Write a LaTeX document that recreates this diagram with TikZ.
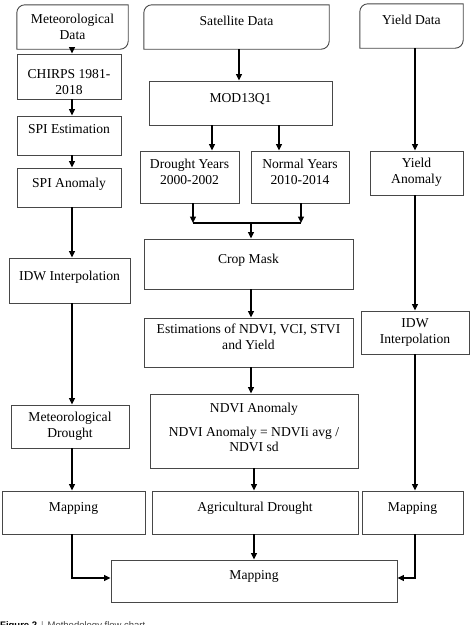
\documentclass[tikz,border=0pt]{standalone}
\usepackage{fontspec}
\setmainfont{Liberation Serif}
\newfontfamily\capfont{Liberation Sans}
\usetikzlibrary{arrows.meta}
\begin{document}
\begin{tikzpicture}[x=1pt,y=1pt,
  bx/.style={draw=black!72, line width=0.9pt, inner sep=0pt},
  rbx/.style={draw=none, inner sep=0pt},
  rline/.style={draw=black!72, line width=0.9pt},
  lbl/.style={anchor=base, inner sep=0pt, align=center, font=\fontsize{13.6}{16.5}\selectfont, text=black},
  arr/.style={draw=black, line width=1.4pt, -{Triangle[length=6.5pt,width=6pt]}},
  ln/.style={draw=black, line width=1.4pt}]
\useasboundingbox (0,0) rectangle (474,-625);
\clip (0,0) rectangle (474,-625);

% ---------- boxes ----------
\node[rbx, minimum width=111pt, minimum height=44pt] (met) at (72.5,-27) {};
\node[bx, minimum width=104pt, minimum height=45pt] (chirps) at (69,-76.5) {};
\node[bx, minimum width=104pt, minimum height=39pt] (spie) at (69,-135.5) {};
\node[bx, minimum width=104pt, minimum height=39pt] (spia) at (69,-187.5) {};
\node[bx, minimum width=121pt, minimum height=45pt] (idwl) at (69.5,-280.5) {};
\node[bx, minimum width=118pt, minimum height=43pt] (metd) at (70,-426.5) {};
\node[bx, minimum width=143pt, minimum height=43pt] (mapl) at (73.5,-512.5) {};
\node[bx, minimum width=286pt, minimum height=42pt] (mapb) at (254,-581) {};

\node[rbx, minimum width=185pt, minimum height=44pt] (sat) at (236.5,-27) {};
\node[bx, minimum width=183pt, minimum height=44pt] (mod) at (240.5,-103) {};
\node[bx, minimum width=99pt, minimum height=52pt] (dry) at (189.5,-177) {};
\node[bx, minimum width=98pt, minimum height=52pt] (nry) at (300,-177) {};
\node[bx, minimum width=209pt, minimum height=50pt] (crop) at (248.5,-264) {};
\node[bx, minimum width=209pt, minimum height=49pt] (est) at (248.5,-342.5) {};
\node[bx, minimum width=208pt, minimum height=74pt] (ndvi) at (254,-431) {};
\node[bx, minimum width=206pt, minimum height=43pt] (agr) at (255,-512.5) {};

\node[rbx, minimum width=103pt, minimum height=44pt] (yld) at (411.5,-26) {};
\node[bx, minimum width=93pt, minimum height=44pt] (yla) at (416.5,-173) {};
\node[bx, minimum width=108pt, minimum height=43pt] (idwr) at (415,-332.5) {};
\node[bx, minimum width=101pt, minimum height=43pt] (mapr) at (412.5,-512.5) {};

% rounded data boxes (top-left and bottom-right corners rounded)
\foreach \b in {met,sat,yld}{
  \draw[rline] (\b.south west) -- ([yshift=-8pt]\b.north west)
    arc[start angle=180,end angle=90,radius=8pt] -- (\b.north east)
    -- ([yshift=8pt]\b.south east)
    arc[start angle=0,end angle=-90,radius=8pt] -- cycle;
}

% ---------- labels (base = baseline of the last line) ----------
\node[lbl] (tmet) at (72.5,-39.5) {Meteorological\\Data};
\node[lbl] (tchirps) at (69,-94.5) {CHIRPS 1981-\\2018};
\node[lbl] (tspie) at (69,-133.5) {SPI Estimation};
\node[lbl] (tspia) at (69,-187.5) {SPI Anomaly};
\node[lbl] (tidwl) at (69.5,-280.5) {IDW Interpolation};
\node[lbl] (tmetd) at (70,-437.5) {Meteorological\\Drought};
\node[lbl] (tmapl) at (73.5,-511.5) {Mapping};
\node[lbl] (tmapb) at (254,-579.5) {Mapping};

\node[lbl] (tsat) at (236.5,-25.5) {Satellite Data};
\node[lbl] (tmod) at (240.5,-102.5) {MOD13Q1};
\node[lbl] (tdry) at (189.5,-184.5) {Drought Years\\2000-2002};
\node[lbl] (tnry) at (300,-184.5) {Normal Years\\2010-2014};
\node[lbl] (tcrop) at (248.5,-263.5) {Crop Mask};
\node[lbl] (test) at (248.5,-349.5) {Estimations of NDVI, VCI, STVI\\and Yield};
\node[lbl, font=\fontsize{13.6}{15}\selectfont] (tndvi) at (254,-451) {NDVI Anomaly\\[9pt]NDVI Anomaly = NDVIi avg /\\NDVI sd};
\node[lbl] (tagr) at (255,-511.5) {Agricultural Drought};

\node[lbl] (tyld) at (411.5,-24.5) {Yield Data};
\node[lbl] (tyla) at (416.5,-183.5) {Yield\\Anomaly};
\node[lbl] (tidwr) at (415,-343.5) {IDW\\Interpolation};
\node[lbl] (tmapr) at (412.5,-511.5) {Mapping};

% ---------- connector x positions ----------
\coordinate (xl) at (72,0);
\coordinate (xs) at (239,0);
\coordinate (xd) at (212,0);
\coordinate (xn) at (279,0);
\coordinate (xa) at (193,0);
\coordinate (xb) at (301,0);
\coordinate (xm) at (251,0);
\coordinate (xq) at (254,0);
\coordinate (xr) at (415,0);
\coordinate (jy) at (0,-223);

% left column
\draw[arr] (met.south -| xl) -- (chirps.north -| xl);
\draw[arr] (chirps.south -| xl) -- (spie.north -| xl);
\draw[arr] (spie.south -| xl) -- (spia.north -| xl);
\draw[arr] (spia.south -| xl) -- (idwl.north -| xl);
\draw[arr] (idwl.south -| xl) -- (metd.north -| xl);
\draw[arr] (metd.south -| xl) -- (mapl.north -| xl);
\draw[arr] (mapl.south -| xl) |- ([yshift=3pt]mapb.west);

% middle column
\draw[arr] (sat.south -| xs) -- (mod.north -| xs);
\draw[arr] (mod.south -| xd) -- (dry.north -| xd);
\draw[arr] (mod.south -| xn) -- (nry.north -| xn);
\draw[arr] (dry.south -| xa) -- (xa |- jy);
\draw[arr] (nry.south -| xb) -- (xb |- jy);
\draw[ln] (xa |- jy) -- (xb |- jy);
\draw[arr] (xm |- jy) -- (crop.north -| xm);
\draw[arr] (crop.south -| xm) -- (est.north -| xm);
\draw[arr] (est.south -| xm) -- (ndvi.north -| xm);
\draw[arr] (ndvi.south -| xq) -- (agr.north -| xq);
\draw[arr] (agr.south -| xq) -- (mapb.north -| xq);

% right column
\draw[arr] (yld.south -| xr) -- (yla.north -| xr);
\draw[arr] (yla.south -| xr) -- (idwr.north -| xr);
\draw[arr] (idwr.south -| xr) -- (mapr.north -| xr);
\draw[arr] (mapr.south -| xr) |- ([yshift=3pt]mapb.east);

% caption (cut by the lower edge)
\node[anchor=base west, inner sep=0pt, font=\capfont\fontsize{9.5}{11}\selectfont] (cap) at (0,-628)
  {\textbf{Figure 2}\hspace{4pt}{\color{black!55}|}\hspace{4pt}{\color{black!75}Methodology flow chart}};
\end{tikzpicture}
\end{document}
